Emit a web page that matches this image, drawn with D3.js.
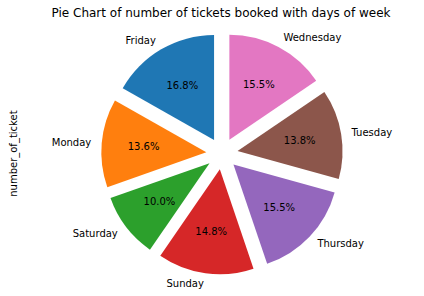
<!DOCTYPE html>
<html>
<head>
<meta charset="utf-8">
<script src="https://cdn.jsdelivr.net/npm/d3@7"></script>
<style>
  body { margin: 0; background: #fff; }
  svg text { font-family: "DejaVu Sans", sans-serif; fill: #000; }
</style>
</head>
<body>
<div id="chart"></div>
<script>
// data (share of tickets per day, %)
const days = ["Friday", "Monday", "Saturday", "Sunday", "Thursday", "Tuesday", "Wednesday"];
const shares = [16.8, 13.6, 10.0, 14.8, 15.5, 13.8, 15.5];
const colors = ["#1f77b4", "#ff7f0e", "#2ca02c", "#d62728", "#9467bd", "#8c564b", "#e377c2"];

const width = 424;
const height = 296;
const cx = 222, cy = 153.6;
const radius = 105;
const explode = 0.15 * radius;

const svg = d3.select("#chart").append("svg")
  .attr("width", width)
  .attr("height", height);

// title
svg.append("text")
  .attr("x", 221)
  .attr("y", 17)
  .attr("text-anchor", "middle")
  .style("font-size", "12px")
  .text("Pie Chart of number of tickets booked with days of week");

// y label
svg.append("text")
  .attr("transform", `translate(17,${cy}) rotate(-90)`)
  .attr("text-anchor", "middle")
  .style("font-size", "10px")
  .text("number_of_ticket");

const total = d3.sum(shares);

// matplotlib goes counterclockwise from the top, so sweep negative
const pie = d3.pie().sort(null).startAngle(0).endAngle(-2 * Math.PI);
const arcs = pie(shares);
const arc = d3.arc().innerRadius(0).outerRadius(radius);

const g = svg.append("g").attr("transform", `translate(${cx},${cy})`);

const dir = d => {
  const m = (d.startAngle + d.endAngle) / 2;
  return [Math.sin(m), -Math.cos(m)];
};

g.selectAll("path.slice")
  .data(arcs)
  .enter()
  .append("path")
  .attr("class", "slice")
  .attr("d", arc)
  .attr("fill", (d, i) => colors[i])
  .attr("transform", d => {
    const [dx, dy] = dir(d);
    return `translate(${dx * explode},${dy * explode})`;
  });

// percent labels
g.selectAll("text.pct")
  .data(arcs)
  .enter()
  .append("text")
  .attr("class", "pct")
  .attr("x", d => dir(d)[0] * (0.6 * radius + explode))
  .attr("y", d => dir(d)[1] * (0.6 * radius + explode))
  .attr("text-anchor", "middle")
  .attr("dominant-baseline", "central")
  .style("font-size", "10px")
  .text(d => (d.value / total * 100).toFixed(1) + "%");

// category labels
g.selectAll("text.lab")
  .data(arcs)
  .enter()
  .append("text")
  .attr("class", "lab")
  .attr("x", d => dir(d)[0] * (1.1 * radius + explode))
  .attr("y", d => dir(d)[1] * (1.1 * radius + explode))
  .attr("text-anchor", d => dir(d)[0] > 0 ? "start" : "end")
  .attr("dominant-baseline", "central")
  .style("font-size", "10px")
  .text((d, i) => days[i]);
</script>
</body>
</html>
